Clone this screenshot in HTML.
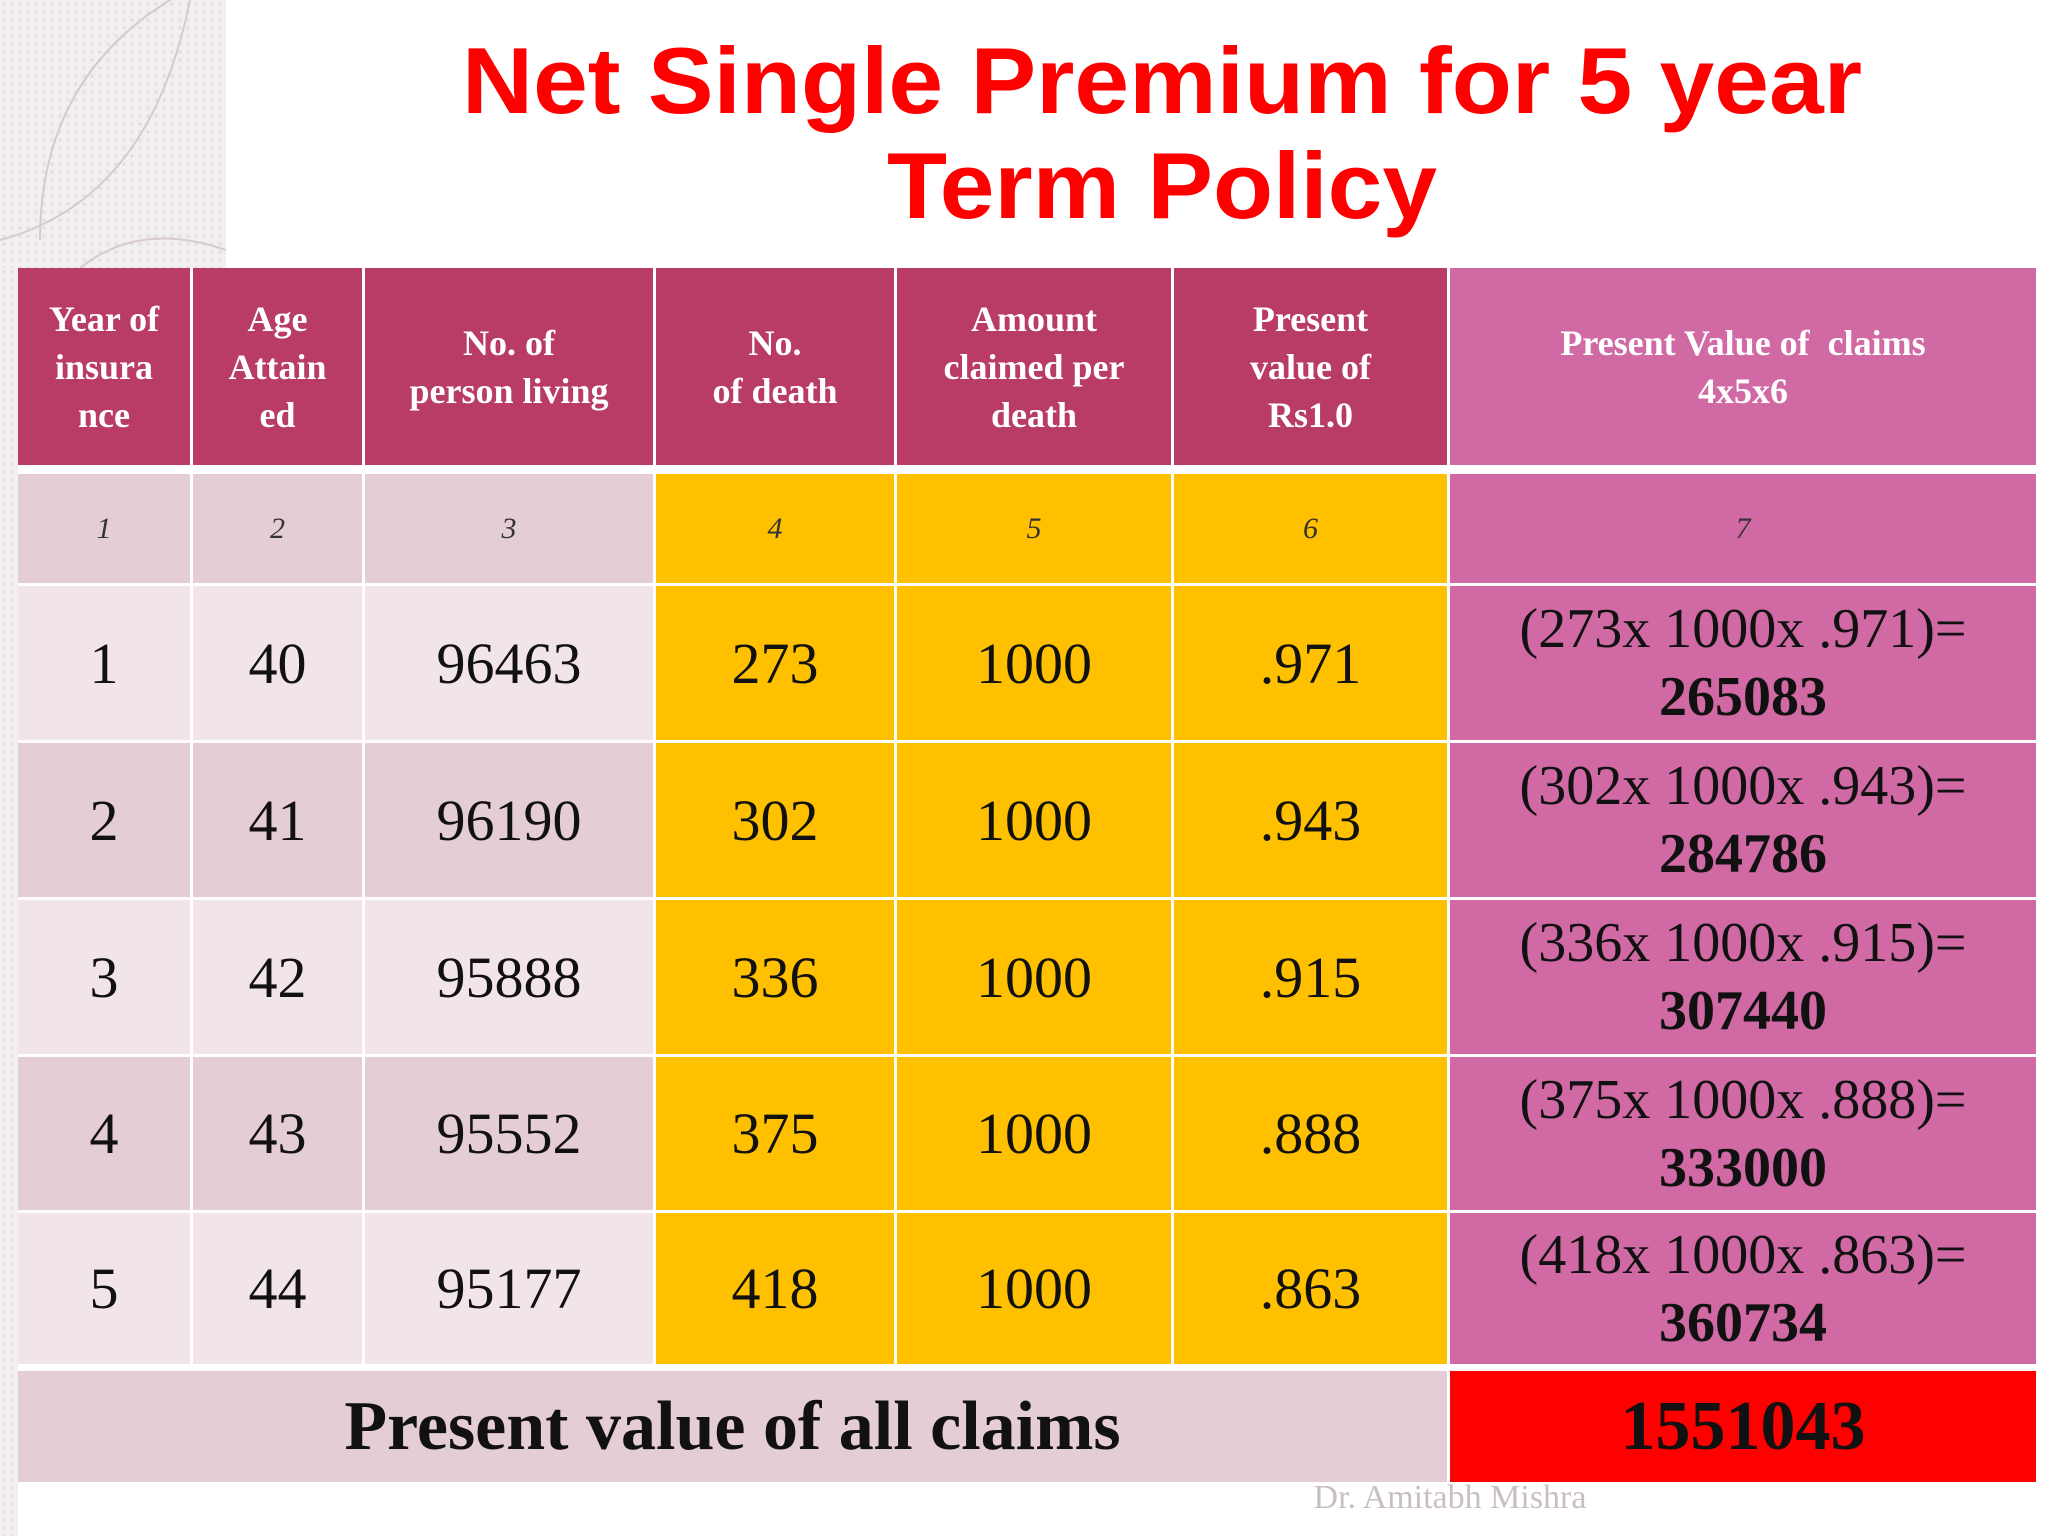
<!DOCTYPE html>
<html><head><meta charset="utf-8">
<style>
html,body{margin:0;padding:0;}
body{width:2048px;height:1536px;position:relative;overflow:hidden;background:#fff;font-family:"Liberation Serif",serif;}
.c{position:absolute;display:flex;align-items:center;justify-content:center;text-align:center;box-sizing:border-box;}
.h{background:#B83C66;color:#fff;font-size:36px;line-height:48px;font-weight:bold;padding:0 4px;}
.n{font-style:italic;font-size:30px;color:#333;}
.d{font-size:58px;color:#111;}
#deco{position:absolute;left:0;top:0;width:226px;height:268px;background:#f1eff0;background-image:radial-gradient(circle,#e2dde0 1.5px,transparent 2px);background-size:8px 8px;}
#strip{position:absolute;left:0;top:268px;width:18px;height:1268px;background:#f1eff0;background-image:radial-gradient(circle,#e2dde0 1.5px,transparent 2px);background-size:8px 8px;}
</style></head>
<body>
<div id="deco">
<svg width="226" height="268"><path d="M170 0 Q40 80 40 240" fill="none" stroke="#d8c9cf" stroke-width="2"/><path d="M0 240 Q150 200 190 0" fill="none" stroke="#d8c9cf" stroke-width="2"/><path d="M80 268 Q140 220 226 250" fill="none" stroke="#d8c9cf" stroke-width="2"/></svg>
</div>
<div id="strip"></div>
<svg style="position:absolute;left:0;top:0" width="2048" height="268">
<text x="1162" y="113" text-anchor="middle" font-family="Liberation Sans,sans-serif" font-weight="bold" font-size="94" fill="#ff0000" textLength="1400" lengthAdjust="spacingAndGlyphs">Net Single Premium for 5 year</text>
<text x="1162" y="218" text-anchor="middle" font-family="Liberation Sans,sans-serif" font-weight="bold" font-size="94" fill="#ff0000" textLength="550" lengthAdjust="spacingAndGlyphs">Term Policy</text>
</svg>
<div id="table"></div>
<div class="c" style="left:1250px;top:1478px;width:400px;height:40px;color:#c9bfc3;font-size:34px;">Dr. Amitabh Mishra</div>
<script>
const headers=["Year of<br>insura<br>nce","Age<br>Attain<br>ed","No. of<br>person living","No.<br>of death","Amount<br>claimed per<br>death","Present<br>value of<br>Rs1.0","Present Value of &nbsp;claims<br>4x5x6"];
const years=["1","2","3","4","5"];
const ages=["40","41","42","43","44"];
const living=["96463","96190","95888","95552","95177"];
const deaths=["273","302","336","375","418"];
const amounts=["1000","1000","1000","1000","1000"];
const pvs=[".971",".943",".915",".888",".863"];
const claims=["265083","284786","307440","333000","360734"];
const total="1551043";

const colX=[18,191,363,654,895,1172,1448,2037];
const rowY=[586,743,900,1057,1213,1367];
const T=document.getElementById('table');
function cell(x0,x1,y0,y1,cls,bg,html){
  const d=document.createElement('div');
  d.className='c '+cls;
  d.style.left=(x0+(x0>18?2:0))+'px';d.style.top=y0+'px';
  d.style.width=(x1-x0-(x0>18?2:0)-1)+'px';d.style.height=(y1-y0-3)+'px';
  if(bg)d.style.background=bg;
  d.innerHTML=html;T.appendChild(d);return d;
}
for(let i=0;i<7;i++){
  const d=cell(colX[i],colX[i+1],268,468,'h',i==6?'#D069A4':null,headers[i]);
  
  
  const n=cell(colX[i],colX[i+1],474,586,'n',i<3?'#E5CDD6':(i<6?'#FFC000':'#D069A4'),String(i+1));
  
  
}
for(let r=0;r<5;r++){
  const vals=[years[r],ages[r],living[r],deaths[r],amounts[r],pvs[r]];
  const light=r%2==0?'#F2E5EA':'#E5CDD6';
  for(let i=0;i<6;i++){
    const d=cell(colX[i],colX[i+1],rowY[r],rowY[r+1],'d',i<3?light:'#FFC000',vals[i]);
    
    
  }
  const d=cell(colX[6],colX[7],rowY[r],rowY[r+1],'d','#D069A4','<div style="font-size:56px;line-height:68px">('+deaths[r]+'x '+amounts[r]+'x '+pvs[r]+')=<br><b>'+claims[r]+'</b></div>');
  
  
}
const f1=cell(18,1448,1371,1485,'d','#E5CDD6','<b style="font-size:70px">Present value of all claims</b>');


const f2=cell(1448,2037,1371,1485,'d','#FF0000','<b style="font-size:70px">'+total+'</b>');


</script>
</body></html>
